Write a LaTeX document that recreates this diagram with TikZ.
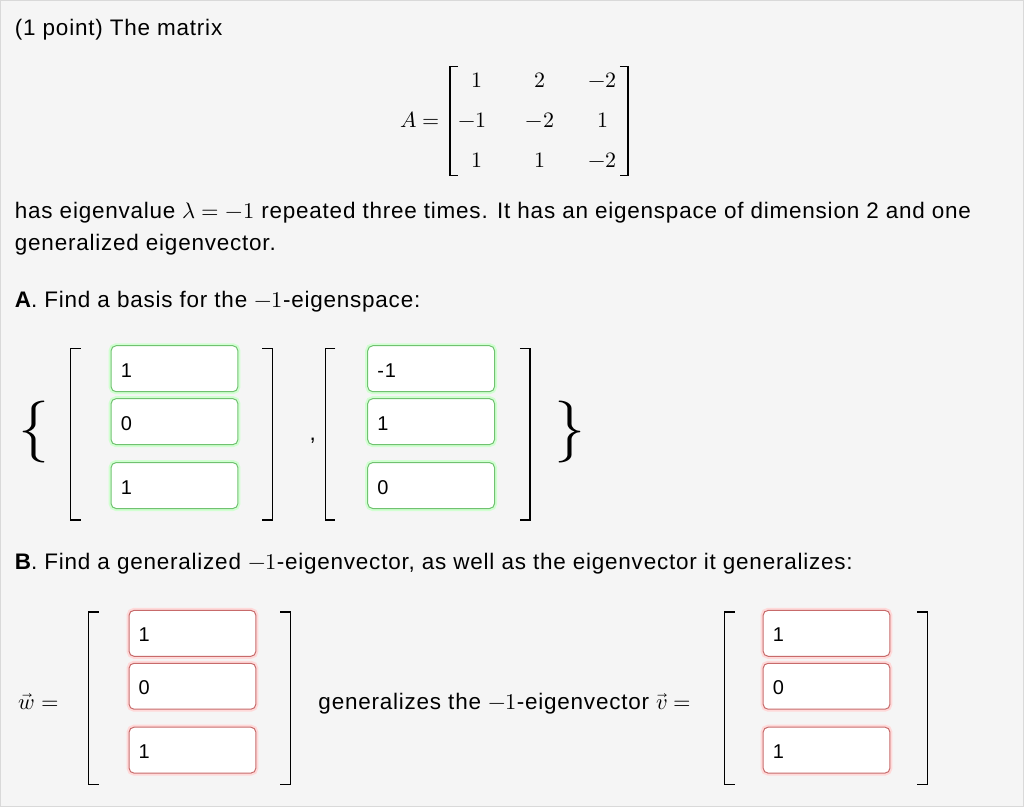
\documentclass[tikz,border=0pt]{standalone}
\usepackage{amsmath}
\usepackage{fontspec}
\setmainfont[LetterSpace=3.5]{Liberation Sans}
\usepackage{unicode-math}
\setmathfont{Latin Modern Math}
\begin{document}
\begin{tikzpicture}[x=1pt,y=-1pt,
  txt/.style={anchor=base west,inner sep=0pt,font=\fontsize{22.5}{26}\selectfont},
  mt/.style={anchor=base,inner sep=0pt,font=\fontsize{22}{26}\selectfont},
  gbox/.style={draw=green!40!gray!80,line width=1pt,rounded corners=5pt,minimum width=127pt,minimum height=46pt,anchor=north west,inner sep=0pt,fill=white,
     preaction={draw=green!18!white,line width=5pt}},
  rbox/.style={draw=red!45!gray!80,line width=1pt,rounded corners=5pt,minimum width=127pt,minimum height=46pt,anchor=north west,inner sep=0pt,fill=white,
     preaction={draw=red!15!white,line width=5pt}},
  bt/.style={anchor=base west,inner sep=0pt,font=\fontsize{20}{24}\selectfont},
  br/.style={line width=1.4pt}]
\draw[fill=black!4,draw=gray!30,line width=1.5pt] (0,0) rectangle (1024,807);
\node[txt] (t1) at (14,35) {(1 point) The matrix};
% matrix A
\node[mt,anchor=base east] (A) at (440,127) {$A=$};
\node[mt] (a11) at (477,87) {$1$};
\node[mt] (a12) at (540,87) {$2$};
\node[mt] (a13) at (603,87) {$-2$};
\node[mt] (a21) at (472,127) {$-1$};
\node[mt] (a22) at (540,127) {$-2$};
\node[mt] (a23) at (603,127) {$1$};
\node[mt] (a31) at (477,167) {$1$};
\node[mt] (a32) at (540,167) {$1$};
\node[mt] (a33) at (603,167) {$-2$};
\draw[br] (458,66)--(450,66)--(450,175)--(458,175);
\draw[br] (620,66)--(628,66)--(628,175)--(620,175);
\node[txt] (t2) at (14,218) {has eigenvalue $\lambda=-1$ repeated three times. It has an eigenspace of dimension 2 and one};
\node[txt] (t3) at (14,250) {generalized eigenvector.};
\node[txt] (t4) at (14,307) {\textbf{A}. Find a basis for the $-1$-eigenspace:};
% part A
\node[inner sep=0pt,font=\fontsize{62}{62}\selectfont] (lb) at (33,432) {$\{$};
\draw[br] (80,348)--(70,348)--(70,520)--(80,520);
\draw[br] (262,348)--(272,348)--(272,520)--(262,520);
\node[gbox] (g1) at (110,345) {};
\node[gbox] (g2) at (110,398) {};
\node[gbox] (g3) at (110,462) {};
\node[bt] at (120,377) {1};
\node[bt] at (120,430) {0};
\node[bt] at (120,494) {1};
\node[txt] (cm) at (309,440) {,};
\draw[br] (335,348)--(325,348)--(325,520)--(335,520);
\draw[br] (520,348)--(530,348)--(530,520)--(520,520);
\node[gbox] (g4) at (367,345) {};
\node[gbox] (g5) at (367,398) {};
\node[gbox] (g6) at (367,462) {};
\node[bt] at (377,377) {-1};
\node[bt] at (377,430) {1};
\node[bt] at (377,494) {0};
\node[inner sep=0pt,font=\fontsize{62}{62}\selectfont] (rb) at (570,432) {$\}$};
\node[txt] (t5) at (14,570) {\textbf{B}. Find a generalized $-1$-eigenvector, as well as the eigenvector it generalizes:};
% part B
\node[txt] (w) at (18,710) {$\vec{w}=$};
\draw[br] (98,612)--(88,612)--(88,785)--(98,785);
\draw[br] (280,612)--(290,612)--(290,785)--(280,785);
\node[rbox] (r1) at (128,610) {};
\node[rbox] (r2) at (128,663) {};
\node[rbox] (r3) at (128,727) {};
\node[bt] at (138,642) {1};
\node[bt] at (138,695) {0};
\node[bt] at (138,759) {1};
\node[txt] (t6) at (318,710) {generalizes the $-1$-eigenvector $\vec{v}=$};
\draw[br] (735,612)--(725,612)--(725,785)--(735,785);
\draw[br] (918,612)--(928,612)--(928,785)--(918,785);
\node[rbox] (r4) at (763,610) {};
\node[rbox] (r5) at (763,663) {};
\node[rbox] (r6) at (763,727) {};
\node[bt] at (773,642) {1};
\node[bt] at (773,695) {0};
\node[bt] at (773,759) {1};
\end{tikzpicture}
\end{document}
